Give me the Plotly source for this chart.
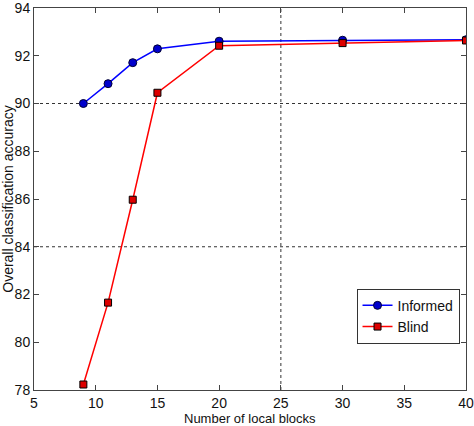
import plotly.graph_objects as go

BLOCKS = [9, 11, 13, 15, 20, 30, 40]
INFORMED = [90.0, 90.83, 91.71, 92.29, 92.61, 92.65, 92.67]
BLIND = [78.23, 81.66, 85.97, 90.45, 92.42, 92.53, 92.64]

X_TICKS = [5, 10, 15, 20, 25, 30, 35, 40]
Y_TICKS = [78, 80, 82, 84, 86, 88, 90, 92, 94]
GRID_X = [25]
GRID_Y = [84, 90]

FONT = "Liberation Sans, Arial, sans-serif"

fig = go.Figure()
fig.add_trace(go.Scatter(
    x=BLOCKS, y=INFORMED, mode="lines+markers", name="Informed",
    line=dict(color="#0000ff", width=1.5),
    marker=dict(symbol="circle", size=8, color="#0000cc",
                line=dict(color="#000033", width=1)),
))
fig.add_trace(go.Scatter(
    x=BLOCKS, y=BLIND, mode="lines+markers", name="Blind",
    line=dict(color="#ff0000", width=1.5),
    marker=dict(symbol="square", size=7, color="#dd0000",
                line=dict(color="#000000", width=1)),
))

# dotted reference lines (matlab grid only at a few ticks)
for gx in GRID_X:
    fig.add_shape(type="line", xref="x", yref="paper", x0=gx, x1=gx, y0=0, y1=1,
                  line=dict(color="#333333", width=1, dash="dot"), layer="below")
for gy in GRID_Y:
    fig.add_shape(type="line", xref="paper", yref="y", x0=0, x1=1, y0=gy, y1=gy,
                  line=dict(color="#333333", width=1, dash="dot"), layer="below")

axis_style = dict(
    showline=True, linecolor="#444444", linewidth=1, mirror="allticks",
    ticks="inside", ticklen=5, tickcolor="#444444",
    showgrid=False, zeroline=False, ticklabeloverflow="allow",
    tickfont=dict(size=14, color="#111111"), automargin=False,
)

# x title as annotation so it sits just under the tick labels
fig.add_annotation(text="Number of local blocks", xref="paper", yref="paper",
                   x=0.5, y=0, xanchor="center", yanchor="top", yshift=-19,
                   showarrow=False, font=dict(size=13, color="#111111"))

fig.update_layout(
    width=474, height=426,
    margin=dict(l=34, r=8, t=8, b=36),
    paper_bgcolor="white", plot_bgcolor="white",
    font=dict(family=FONT, color="#111111"),
    showlegend=True,
    legend=dict(x=0.985, y=0.265, xanchor="right", yanchor="top",
                bgcolor="white", bordercolor="#333333", borderwidth=1,
                font=dict(size=14), itemwidth=30, tracegroupgap=0),
    xaxis=dict(range=[5, 40], tickvals=X_TICKS, **axis_style),
    yaxis=dict(range=[78, 94], tickvals=Y_TICKS,
               title=dict(text="Overall classification accuracy", font=dict(size=14), standoff=2),
               **axis_style),
)

# drop the default page margin so the figure fills the window
fig.write_html("out.html", config={"displayModeBar": False},
               post_script="document.body.style.margin='0';")
